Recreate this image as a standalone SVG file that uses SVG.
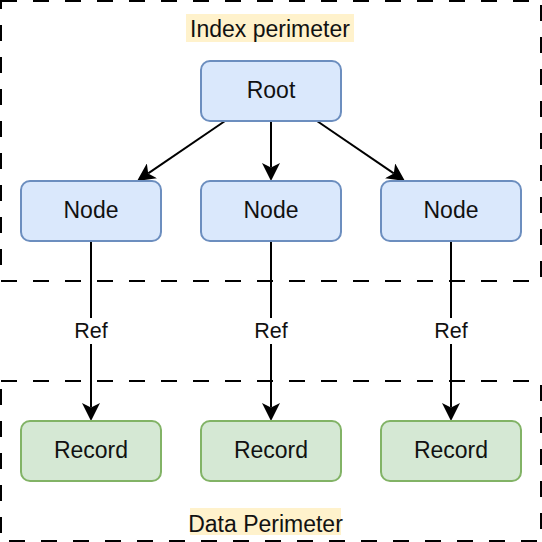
<svg xmlns="http://www.w3.org/2000/svg" width="542" height="542" viewBox="0 0 542 542">
<style>
.perim{fill:none;stroke:#000;stroke-width:2;stroke-dasharray:16 16}
.blue{fill:#dae8fc;stroke:#6c8ebf;stroke-width:2}
.green{fill:#d5e8d4;stroke:#82b366;stroke-width:2}
.lbl{font-family:"Liberation Sans",Arial,Helvetica,sans-serif;font-size:23px;fill:#111;text-anchor:middle}
.elbl{font-family:"Liberation Sans",Arial,Helvetica,sans-serif;font-size:21.5px;fill:#111;text-anchor:middle}
.edge{fill:none;stroke:#000;stroke-width:2}
</style>
<defs>
<marker id="arr" viewBox="0 0 18 18" refX="4.5" refY="9" markerWidth="18" markerHeight="18" markerUnits="userSpaceOnUse" orient="auto">
<path d="M18,9 L0,0 L4.5,9 L0,18 Z" fill="#000"/>
</marker>
</defs>
<g id="index-perimeter">
<rect class="perim" x="1" y="1" width="540" height="280"/>
<rect x="186" y="14" width="168" height="28" fill="#fff2cc"/>
<text class="lbl" x="270" y="36.5">Index perimeter</text>
</g>
<g id="data-perimeter">
<rect class="perim" x="1" y="381" width="540" height="160"/>
<rect x="190" y="508" width="151" height="27" fill="#fff2cc"/>
<text class="lbl" x="265.5" y="531.5">Data Perimeter</text>
</g>
<g id="connectors">
<line class="edge" x1="225" y1="121" x2="148.2" y2="173.4" marker-end="url(#arr)"/>
<line class="edge" x1="271" y1="121" x2="271" y2="167.5" marker-end="url(#arr)"/>
<line class="edge" x1="317" y1="121" x2="393.8" y2="173.4" marker-end="url(#arr)"/>
<line class="edge" x1="91" y1="241" x2="91" y2="407.5" marker-end="url(#arr)"/>
<line class="edge" x1="271" y1="241" x2="271" y2="407.5" marker-end="url(#arr)"/>
<line class="edge" x1="451" y1="241" x2="451" y2="407.5" marker-end="url(#arr)"/>
<rect x="72" y="318" width="38" height="26" fill="#fff"/>
<rect x="252" y="318" width="38" height="26" fill="#fff"/>
<rect x="432" y="318" width="38" height="26" fill="#fff"/>
<text class="elbl" x="91" y="337.5">Ref</text>
<text class="elbl" x="271" y="337.5">Ref</text>
<text class="elbl" x="451" y="337.5">Ref</text>
</g>
<g id="root">
<rect class="blue" x="201" y="61" width="140" height="60" rx="9"/>
<text class="lbl" x="271" y="98">Root</text>
</g>
<g id="node1">
<rect class="blue" x="21" y="181" width="140" height="60" rx="9"/>
<text class="lbl" x="91" y="218">Node</text>
</g>
<g id="node2">
<rect class="blue" x="201" y="181" width="140" height="60" rx="9"/>
<text class="lbl" x="271" y="218">Node</text>
</g>
<g id="node3">
<rect class="blue" x="381" y="181" width="140" height="60" rx="9"/>
<text class="lbl" x="451" y="218">Node</text>
</g>
<g id="record1">
<rect class="green" x="21" y="421" width="140" height="60" rx="9"/>
<text class="lbl" x="91" y="458">Record</text>
</g>
<g id="record2">
<rect class="green" x="201" y="421" width="140" height="60" rx="9"/>
<text class="lbl" x="271" y="458">Record</text>
</g>
<g id="record3">
<rect class="green" x="381" y="421" width="140" height="60" rx="9"/>
<text class="lbl" x="451" y="458">Record</text>
</g>
</svg>
